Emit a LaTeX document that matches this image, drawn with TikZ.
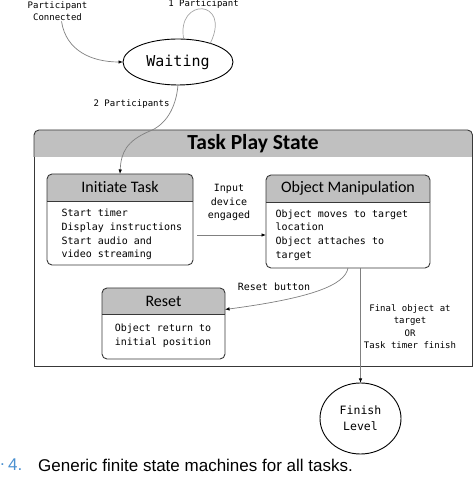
\documentclass[tikz,border=0pt]{standalone}
\usepackage{fontspec}
\setmainfont{Carlito}[Ligatures=NoCommon]
\newfontfamily\monof{DejaVu Sans Mono}
\newfontfamily\capf{Liberation Sans}
\usetikzlibrary{arrows.meta,shapes.geometric}
\definecolor{hdrgray}{HTML}{C0C0C0}
\definecolor{edgegray}{HTML}{383838}
\definecolor{conngray}{HTML}{808080}
\definecolor{capblue}{HTML}{4A90D0}
\newcommand\stateparts[2]{%
  \filldraw[boxline, fill=hdrgray, rounded corners=5pt] ([yshift=-#2]#1.north west) -- (#1.north west) -- (#1.north east) -- ([yshift=-#2]#1.north east);
  \draw[boxline] ([yshift=-#2]#1.north west) -- ([yshift=-#2]#1.north east);
  \draw[boxline, rounded corners=5pt] ([yshift=-#2]#1.north west) -- (#1.south west) -- (#1.south east) -- ([yshift=-#2]#1.north east);
}
\begin{document}
\begin{tikzpicture}[x=1pt,y=1pt,
  stbox/.style={draw=none, outer sep=0pt, inner sep=0pt, rectangle},
  conn/.style={draw=conngray, line width=0.7pt, -{Latex[length=4.5pt,width=3.5pt,color=black]}},
  lbl/.style={font=\monof\fontsize{9}{12.3}\selectfont, align=center, inner sep=0pt},
  bodytext/.style={font=\monof\fontsize{10}{13.6}\selectfont, align=left, inner sep=0pt},
  hdrtext/.style={font=\fontsize{16}{18}\selectfont, inner sep=0pt},
  boxline/.style={draw=edgegray, line width=0.9pt},
  oval/.style={ellipse, draw=black, line width=0.9pt, inner sep=0pt, outer sep=0pt},
]
\useasboundingbox (0,0) rectangle (474,481);

% Waiting state
\node[oval, minimum width=110pt, minimum height=46pt, font=\monof\fontsize{15}{18}\selectfont] (waiting) at (178,419) {Waiting};
\node[lbl] (pc) at (57.5,469.5) {Participant\\Connected};
\node[lbl] (onep) at (203.5,476.5) {1 Participant};
\node[lbl] (twop) at (131.5,377) {2 Participants};

% Task Play State container
\node[stbox, minimum width=438.5pt, minimum height=236pt] (tps) at (253.25,233) {};
\filldraw[boxline, fill=hdrgray, rounded corners=5pt] ([yshift=-27pt]tps.north west) -- (tps.north west) -- (tps.north east) -- ([yshift=-27pt]tps.north east);
\draw[boxline] ([yshift=-27pt]tps.north west) -- (tps.south west) -- (tps.south east) -- ([yshift=-27pt]tps.north east);
\node[font=\bfseries\fontsize{21.5}{24}\selectfont, inner sep=0pt] (tpst) at (253,337.5) {Task Play State};

% Initiate Task
\node[stbox, minimum width=146pt, minimum height=91pt] (init) at (120,261.5) {};
\stateparts{init}{27pt}
\node[hdrtext] (initt) at (120,293.5) {Initiate Task};
\node[bodytext, anchor=west] (initb) at (61.5,246.5) {Start timer\\Display instructions\\Start audio and\\video streaming};

% Object Manipulation
\node[stbox, minimum width=164pt, minimum height=93pt] (objm) at (348,259.5) {};
\stateparts{objm}{27pt}
\node[hdrtext] (objmt) at (348,292.5) {Object Manipulation};
\node[bodytext, anchor=west] (objmb) at (275.5,246) {Object moves to target\\location\\Object attaches to\\target};

% Reset
\node[stbox, minimum width=123pt, minimum height=71pt] (reset) at (163.5,157.5) {};
\stateparts{reset}{26pt}
\node[hdrtext] (resett) at (163.5,180) {Reset};
\node[bodytext, align=center] (resetb) at (163,145.5) {Object return to\\initial position};

% Finish Level
\node[oval, minimum width=81pt, minimum height=71pt, font=\monof\fontsize{11.5}{16}\selectfont, align=center] (finish) at (360.5,62.5) {Finish\\Level};

% labels
\node[font=\monof\fontsize{10}{13.5}\selectfont, align=center, inner sep=0pt] (inp) at (229,278.5) {Input\\device\\engaged};
\node[font=\monof\fontsize{10}{12}\selectfont, inner sep=0pt] (rbl) at (274,194) {Reset button};
\node[lbl] (fol) at (410,154.5) {Final object at\\target\\OR\\Task timer finish};

% connectors
\draw[conn] ([xshift=4pt]pc.south) .. controls (66,430) and (92,419) .. (waiting.west);
\draw[draw=conngray!70, line width=0.7pt] (waiting.76) .. controls (176,484) and (232,482) .. (waiting.30);
\draw[conn] (waiting.south) .. controls (176,372) and (165,356) .. (150,350) .. controls (126,340) and (121,328) .. (init.north);
\coordinate (ia) at ([xshift=4pt,yshift=-15.5pt]init.east);
\draw[conn] (ia) -- (ia -| objm.west);
\coordinate (rs) at ([yshift=-21.5pt]reset.north east);
\draw[conn] (objm.south) .. controls (345,196) and (312,183) .. (rs);
\draw[conn] (objm.south -| finish.north) -- (finish.north);

% caption
\node[font=\capf\fontsize{17}{20}\selectfont, text=capblue, anchor=east, inner sep=0pt] (capdot) at (5,16) {.};
\node[font=\capf\fontsize{17}{20}\selectfont, text=capblue, anchor=west, inner sep=0pt] (capnum) at (8,16) {4.};
\node[font=\capf\fontsize{17}{20}\selectfont, anchor=west, inner sep=0pt] (cap) at (38,16) {Generic finite state machines for all tasks.};
\end{tikzpicture}
\end{document}
